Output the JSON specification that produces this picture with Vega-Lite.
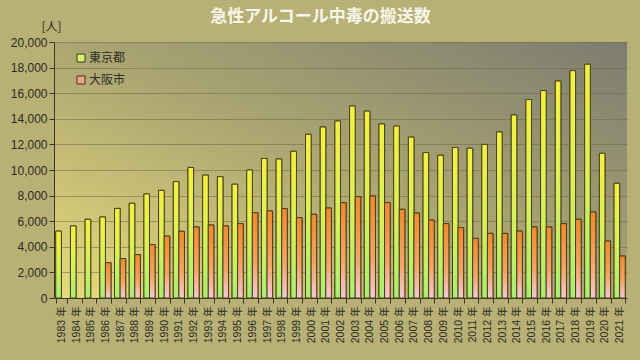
{
  "$schema": "https://vega.github.io/schema/vega-lite/v6.json",
  "width": 640,
  "height": 360,
  "autosize": {"type": "fit", "contains": "padding"},
  "padding": {"left": 10, "top": 8, "right": 13, "bottom": 17},
  "background": "#b8b074",
  "title": {
    "text": "急性アルコール中毒の搬送数",
    "font": "Noto Sans CJK JP",
    "fontSize": 17,
    "fontWeight": "bold",
    "color": "#f6f6ea",
    "anchor": "middle",
    "frame": "group",
    "dx": -20,
    "offset": -6
  },
  "config": {
    "view": {
      "stroke": null,
      "fill": {
        "gradient": "linear",
        "x1": 0, "y1": 1, "x2": 1, "y2": 0,
        "stops": [
          {"offset": 0, "color": "#e6da7a"},
          {"offset": 0.5, "color": "#aca672"},
          {"offset": 1, "color": "#7c7c70"}
        ]
      }
    }
  },
  "data": {
    "values": [
      {"year": "1983 年", "series": "東京都", "count": 5230},
      {"year": "1984 年", "series": "東京都", "count": 5630},
      {"year": "1985 年", "series": "東京都", "count": 6150},
      {"year": "1986 年", "series": "東京都", "count": 6330},
      {"year": "1987 年", "series": "東京都", "count": 7000},
      {"year": "1988 年", "series": "東京都", "count": 7400},
      {"year": "1989 年", "series": "東京都", "count": 8130},
      {"year": "1990 年", "series": "東京都", "count": 8410},
      {"year": "1991 年", "series": "東京都", "count": 9090},
      {"year": "1992 年", "series": "東京都", "count": 10200},
      {"year": "1993 年", "series": "東京都", "count": 9600},
      {"year": "1994 年", "series": "東京都", "count": 9480},
      {"year": "1995 年", "series": "東京都", "count": 8890},
      {"year": "1996 年", "series": "東京都", "count": 10000},
      {"year": "1997 年", "series": "東京都", "count": 10900},
      {"year": "1998 年", "series": "東京都", "count": 10860},
      {"year": "1999 年", "series": "東京都", "count": 11460},
      {"year": "2000 年", "series": "東京都", "count": 12790},
      {"year": "2001 年", "series": "東京都", "count": 13360},
      {"year": "2002 年", "series": "東京都", "count": 13830},
      {"year": "2003 年", "series": "東京都", "count": 15000},
      {"year": "2004 年", "series": "東京都", "count": 14600},
      {"year": "2005 年", "series": "東京都", "count": 13600},
      {"year": "2006 年", "series": "東京都", "count": 13430},
      {"year": "2007 年", "series": "東京都", "count": 12570},
      {"year": "2008 年", "series": "東京都", "count": 11360},
      {"year": "2009 年", "series": "東京都", "count": 11150},
      {"year": "2010 年", "series": "東京都", "count": 11750},
      {"year": "2011 年", "series": "東京都", "count": 11700},
      {"year": "2012 年", "series": "東京都", "count": 12000},
      {"year": "2013 年", "series": "東京都", "count": 12970},
      {"year": "2014 年", "series": "東京都", "count": 14300},
      {"year": "2015 年", "series": "東京都", "count": 15500},
      {"year": "2016 年", "series": "東京都", "count": 16200},
      {"year": "2017 年", "series": "東京都", "count": 16950},
      {"year": "2018 年", "series": "東京都", "count": 17760},
      {"year": "2019 年", "series": "東京都", "count": 18260},
      {"year": "2020 年", "series": "東京都", "count": 11300},
      {"year": "2021 年", "series": "東京都", "count": 8960},
      {"year": "1986 年", "series": "大阪市", "count": 2760},
      {"year": "1987 年", "series": "大阪市", "count": 3080},
      {"year": "1988 年", "series": "大阪市", "count": 3390},
      {"year": "1989 年", "series": "大阪市", "count": 4170},
      {"year": "1990 年", "series": "大阪市", "count": 4840},
      {"year": "1991 年", "series": "大阪市", "count": 5210},
      {"year": "1992 年", "series": "大阪市", "count": 5550},
      {"year": "1993 年", "series": "大阪市", "count": 5700},
      {"year": "1994 年", "series": "大阪市", "count": 5630},
      {"year": "1995 年", "series": "大阪市", "count": 5810},
      {"year": "1996 年", "series": "大阪市", "count": 6670},
      {"year": "1997 年", "series": "大阪市", "count": 6800},
      {"year": "1998 年", "series": "大阪市", "count": 6980},
      {"year": "1999 年", "series": "大阪市", "count": 6280},
      {"year": "2000 年", "series": "大阪市", "count": 6540},
      {"year": "2001 年", "series": "大阪市", "count": 7030},
      {"year": "2002 年", "series": "大阪市", "count": 7450},
      {"year": "2003 年", "series": "大阪市", "count": 7920},
      {"year": "2004 年", "series": "大阪市", "count": 7970},
      {"year": "2005 年", "series": "大阪市", "count": 7450},
      {"year": "2006 年", "series": "大阪市", "count": 6930},
      {"year": "2007 年", "series": "大阪市", "count": 6640},
      {"year": "2008 年", "series": "大阪市", "count": 6090},
      {"year": "2009 年", "series": "大阪市", "count": 5810},
      {"year": "2010 年", "series": "大阪市", "count": 5500},
      {"year": "2011 年", "series": "大阪市", "count": 4660},
      {"year": "2012 年", "series": "大阪市", "count": 5050},
      {"year": "2013 年", "series": "大阪市", "count": 5050},
      {"year": "2014 年", "series": "大阪市", "count": 5230},
      {"year": "2015 年", "series": "大阪市", "count": 5550},
      {"year": "2016 年", "series": "大阪市", "count": 5550},
      {"year": "2017 年", "series": "大阪市", "count": 5810},
      {"year": "2018 年", "series": "大阪市", "count": 6150},
      {"year": "2019 年", "series": "大阪市", "count": 6720},
      {"year": "2020 年", "series": "大阪市", "count": 4450},
      {"year": "2021 年", "series": "大阪市", "count": 3280}
    ]
  },
  "encoding": {
    "x": {
      "field": "year",
      "type": "nominal",
      "sort": null,
      "scale": {"paddingInner": 0.24, "paddingOuter": 0.12},
      "axis": {
        "title": null,
        "labelAngle": -90,
        "labelFont": "Liberation Sans, Noto Sans CJK JP",
        "labelFontSize": 10.5,
        "labelColor": "#2c2c24",
        "labelPadding": 3,
        "tickBand": "extent",
        "tickSize": 5,
        "tickColor": "#3a3624",
        "domainColor": "#3a3624",
        "grid": false
      }
    },
    "xOffset": {
      "field": "series",
      "type": "nominal",
      "scale": {"domain": ["東京都", "大阪市"], "paddingInner": 0}
    },
    "y": {
      "field": "count",
      "type": "quantitative",
      "scale": {"domain": [0, 20000]},
      "axis": {
        "values": [0, 2000, 4000, 6000, 8000, 10000, 12000, 14000, 16000, 18000, 20000],
        "format": ",d",
        "labelFont": "Liberation Sans",
        "labelFontSize": 12,
        "labelColor": "#2c2c24",
        "tickSize": 5,
        "tickColor": "#3a3624",
        "domainColor": "#3a3624",
        "gridColor": "#6e6a48",
        "gridOpacity": 0.55,
        "title": "[人]",
        "titleAngle": 0,
        "titleFont": "Noto Sans CJK JP",
        "titleFontSize": 12,
        "titleFontWeight": "normal",
        "titleColor": "#2c2c24",
        "titleAlign": "center",
        "titleBaseline": "middle",
        "titleX": -3,
        "titleY": -16
      }
    }
  },
  "layer": [
    {
      "mark": {"type": "bar", "stroke": "#4a4018", "strokeWidth": 1},
      "encoding": {
        "color": {
          "field": "series",
          "type": "nominal",
          "scale": {"domain": ["東京都", "大阪市"], "range": ["#d8f06c", "#f2a482"]},
          "legend": {
            "title": null,
            "orient": "none",
            "legendX": 21,
            "legendY": 10,
            "symbolType": "square",
            "symbolSize": 64,
            "symbolStrokeColor": "#3a3624",
            "symbolStrokeWidth": 1,
            "labelFont": "Noto Sans CJK JP",
            "labelFontSize": 12,
            "labelColor": "#2c2c24",
            "labelOffset": 2,
            "rowPadding": 10
          }
        }
      }
    },
    {
      "mark": {"type": "bar", "stroke": "#4a4018", "strokeWidth": 1},
      "encoding": {
        "fill": {
          "condition": {
            "test": "datum.series === '東京都'",
            "value": {
              "gradient": "linear", "x1": 0, "y1": 0, "x2": 0, "y2": 1,
              "stops": [
                {"offset": 0, "color": "#f4f040"},
                {"offset": 0.5, "color": "#daf058"},
                {"offset": 1, "color": "#a8ee74"}
              ]
            }
          },
          "value": {
            "gradient": "linear", "x1": 0, "y1": 0, "x2": 0, "y2": 1,
            "stops": [
              {"offset": 0, "color": "#f08a2c"},
              {"offset": 0.6, "color": "#f3a468"},
              {"offset": 1, "color": "#f4c8d8"}
            ]
          }
        }
      }
    }
  ]
}
